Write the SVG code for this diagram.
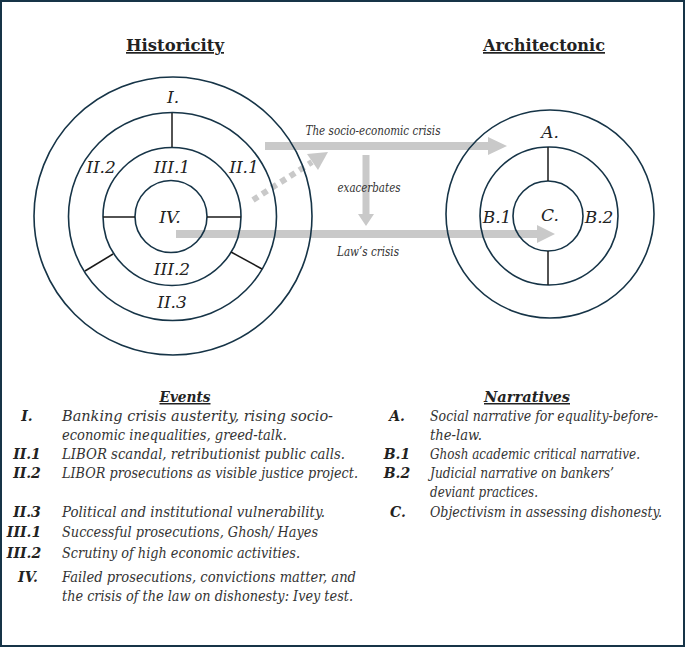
<svg xmlns="http://www.w3.org/2000/svg" width="685" height="647" viewBox="0 0 685 647">
<style>
.ring{fill:none;stroke:#163447;stroke-width:1.6}
.div{stroke:#1a1a1a;stroke-width:1.5}
text{font-family:"DejaVu Serif","Liberation Serif",serif}
.lab{font-style:italic;font-size:17px;fill:#222;text-anchor:middle}
.title{font-weight:bold;font-size:17px;fill:#222;text-anchor:middle;text-decoration:underline}
.head{font-weight:bold;font-style:italic;font-size:15px;fill:#222;text-anchor:middle;text-decoration:underline}
.key{font-weight:bold;font-style:italic;font-size:14px;fill:#222;text-anchor:middle}
.txt{font-style:italic;font-size:14px;fill:#333}
.cap{font-style:italic;font-size:12px;fill:#333;text-anchor:middle}
.arr{fill:#c9c9c9}
</style>
<rect x="1" y="1" width="683" height="645" fill="#fff" stroke="#163447" stroke-width="2"/>
<text class="title" x="175" y="51" textLength="98" lengthAdjust="spacingAndGlyphs">Historicity</text>
<text class="title" x="544" y="51" textLength="122" lengthAdjust="spacingAndGlyphs">Architectonic</text>
<g id="connectors">
<polygon class="arr" points="265,142 488,142 488,137 507,146 488,155 488,150 265,150"/>
<polygon class="arr" points="176,230 537,230 537,225 555,234 537,243 537,238 176,238"/>
<polygon class="arr" points="362.5,155 369.5,155 369.5,214 374,214 366,226 358,214 362.5,214"/>
<line x1="253" y1="200" x2="312" y2="162" stroke="#c9c9c9" stroke-width="6" stroke-dasharray="6 5"/>
<polygon class="arr" points="328,152 307,154 318,170"/>
<text class="cap" x="373" y="135" textLength="135" lengthAdjust="spacingAndGlyphs">The socio-economic crisis</text>
<text class="cap" x="369" y="192" textLength="63" lengthAdjust="spacingAndGlyphs">exacerbates</text>
<text class="cap" x="368" y="256" textLength="62" lengthAdjust="spacingAndGlyphs">Law’s crisis</text>
</g>
<g id="historicity">
<circle class="ring" cx="173" cy="216" r="139"/>
<circle class="ring" cx="172.5" cy="216.5" r="104"/>
<circle class="ring" cx="172" cy="216.5" r="69"/>
<circle class="ring" cx="171" cy="216.5" r="36"/>
<line class="div" x1="172" y1="113" x2="172" y2="147"/>
<line class="div" x1="103" y1="217" x2="135" y2="217"/>
<line class="div" x1="207" y1="217" x2="241" y2="217"/>
<line class="div" x1="113" y1="254" x2="85" y2="271"/>
<line class="div" x1="231" y1="252" x2="262" y2="269"/>
<text class="lab" x="173" y="103">I.</text>
<text class="lab" x="101" y="173">II.2</text>
<text class="lab" x="172" y="173">III.1</text>
<text class="lab" x="244" y="173">II.1</text>
<text class="lab" x="170" y="223">IV.</text>
<text class="lab" x="172" y="275">III.2</text>
<text class="lab" x="172" y="308">II.3</text>
</g>
<g id="architectonic">
<circle class="ring" cx="550" cy="214" r="104"/>
<circle class="ring" cx="549" cy="216" r="69"/>
<circle class="ring" cx="548" cy="216" r="35"/>
<line class="div" x1="548" y1="147" x2="548" y2="181"/>
<line class="div" x1="548" y1="251" x2="548" y2="285"/>
<text class="lab" x="550" y="138">A.</text>
<text class="lab" x="497" y="223">B.1</text>
<text class="lab" x="550" y="221">C.</text>
<text class="lab" x="599" y="223">B.2</text>
</g>
<g id="events">
<text class="head" x="185" y="402" textLength="51" lengthAdjust="spacingAndGlyphs">Events</text>
<text class="key" x="27" y="421">I.</text>
<text class="txt" x="62" y="421" textLength="271" lengthAdjust="spacingAndGlyphs">Banking crisis austerity, rising socio-</text>
<text class="txt" x="62" y="440" textLength="225" lengthAdjust="spacingAndGlyphs">economic inequalities, greed-talk.</text>
<text class="key" x="27" y="459">II.1</text>
<text class="txt" x="62" y="459" textLength="283" lengthAdjust="spacingAndGlyphs">LIBOR scandal, retributionist public calls.</text>
<text class="key" x="27" y="478">II.2</text>
<text class="txt" x="62" y="478" textLength="296" lengthAdjust="spacingAndGlyphs">LIBOR prosecutions as visible justice project.</text>
<text class="key" x="27" y="517">II.3</text>
<text class="txt" x="62" y="517" textLength="263" lengthAdjust="spacingAndGlyphs">Political and institutional vulnerability.</text>
<text class="key" x="24" y="537">III.1</text>
<text class="txt" x="62" y="537" textLength="256" lengthAdjust="spacingAndGlyphs">Successful prosecutions, Ghosh/ Hayes</text>
<text class="key" x="24" y="558">III.2</text>
<text class="txt" x="62" y="558" textLength="238" lengthAdjust="spacingAndGlyphs">Scrutiny of high economic activities.</text>
<text class="key" x="28" y="582">IV.</text>
<text class="txt" x="62" y="582" textLength="294" lengthAdjust="spacingAndGlyphs">Failed prosecutions, convictions matter, and</text>
<text class="txt" x="62" y="601" textLength="291" lengthAdjust="spacingAndGlyphs">the crisis of the law on dishonesty: Ivey test.</text>
</g>
<g id="narratives">
<text class="head" x="527" y="402" textLength="86" lengthAdjust="spacingAndGlyphs">Narratives</text>
<text class="key" x="397" y="421">A.</text>
<text class="txt" x="430" y="421" textLength="228" lengthAdjust="spacingAndGlyphs">Social narrative for equality-before-</text>
<text class="txt" x="430" y="440" textLength="52" lengthAdjust="spacingAndGlyphs">the-law.</text>
<text class="key" x="397" y="459">B.1</text>
<text class="txt" x="430" y="459" textLength="210" lengthAdjust="spacingAndGlyphs">Ghosh academic critical narrative.</text>
<text class="key" x="397" y="478">B.2</text>
<text class="txt" x="430" y="478" textLength="184" lengthAdjust="spacingAndGlyphs">Judicial narrative on bankers’</text>
<text class="txt" x="430" y="497" textLength="108" lengthAdjust="spacingAndGlyphs">deviant practices.</text>
<text class="key" x="398" y="517">C.</text>
<text class="txt" x="430" y="517" textLength="232" lengthAdjust="spacingAndGlyphs">Objectivism in assessing dishonesty.</text>
</g>
</svg>
